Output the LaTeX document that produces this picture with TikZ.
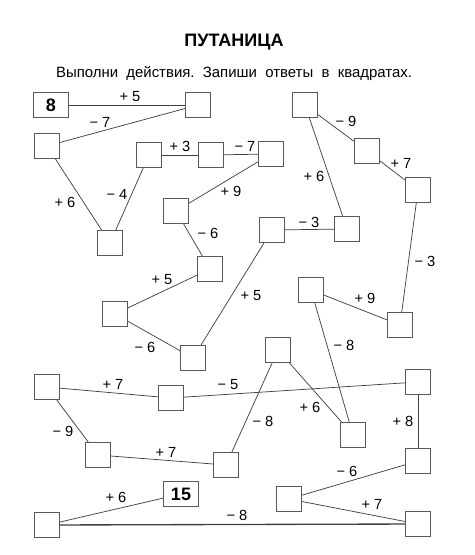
\documentclass[tikz,border=0pt]{standalone}
\usepackage{fontspec}
\setmainfont{Liberation Sans}
\usetikzlibrary{positioning}
\begin{document}
\begin{tikzpicture}[x=0.75pt,y=-0.75pt,
    cell/.style={draw=black!65, line width=0.7pt, minimum size=19pt, inner sep=0pt},
    given/.style={cell, minimum width=26.5pt, font=\fontsize{13.5}{14}\selectfont\bfseries},
    link/.style={black!75, line width=0.55pt},
    op/.style={font=\fontsize{11}{12}\selectfont, inner sep=0pt}]
    \useasboundingbox (0,0) rectangle (474,555);
    % Heading
    \node[font=\fontsize{13.5}{15}\selectfont\bfseries] (title) at (234,42) {ПУТАНИЦА};
    \node[font=\fontsize{11.2}{13}\selectfont, below=5pt of title.south] (task) {Выполни\ \ действия.\ \ Запиши\ \ ответы\ \ в\ \ квадратах.};
    % Start and end
    \node[given] (n8) at (51,105) {8};
    \node[given] (n15) at (181,494) {15};
    % Empty squares
    \foreach \name/\x/\y in {q1/198/105, q2/47/146, q3/110/243, q4/149/155, q5/211/155,
        q6/271/154, q7/176/211, q8/210/269, q9/115/314, q10/193/358, q11/272/230,
        q12/347/229, q13/305/105, q14/367/151, q15/418/190, q16/400/325, q17/311/290,
        q18/353/435, q19/278/350, q20/226/465, q21/98/455, q22/47/387, q23/171/398,
        q24/418/382, q25/418/461, q26/289/499, q27/418/524, q28/47/525} {
        \node[cell] (\name) at (\x,\y) {};
    }
    % Chain
    \foreach \n [remember=\n as \p (initially n8)] in {q1,q2,q3,q4,q5,q6,q7,q8,q9,q10,q11,q12,q13,q14,
        q15,q16,q17,q18,q19,q20,q21,q22,q23,q24,q25,q26,q27} {
        \draw[link] (\p) -- (\n);
    }
    \draw[link, line width=1pt] (q27) -- (q28);
    \draw[link] (q28) -- (n15);
    % Operations
    \foreach \t/\x/\y [count=\i] in {+ 5/130/97, − 7/100/122, + 6/65/202, − 4/117/194,
        + 3/180/146, − 7/245/146, + 9/231/191, − 6/208/233, + 5/162/280, − 6/145/347,
        + 5/251/296, − 3/309/222, + 6/314/176, − 9/346/121, + 7/401/163, − 3/425/261,
        + 9/365/298, − 8/344/345, + 6/310/407, − 8/263/421, + 7/166/452, − 9/63/431,
        + 7/113/384, − 5/228/385, + 8/403/421, − 6/347/471, + 7/372/504, − 8/237/515,
        + 6/116/497} {
        \node[op] (op\i) at (\x,\y) {\t};
    }
\end{tikzpicture}
\end{document}
